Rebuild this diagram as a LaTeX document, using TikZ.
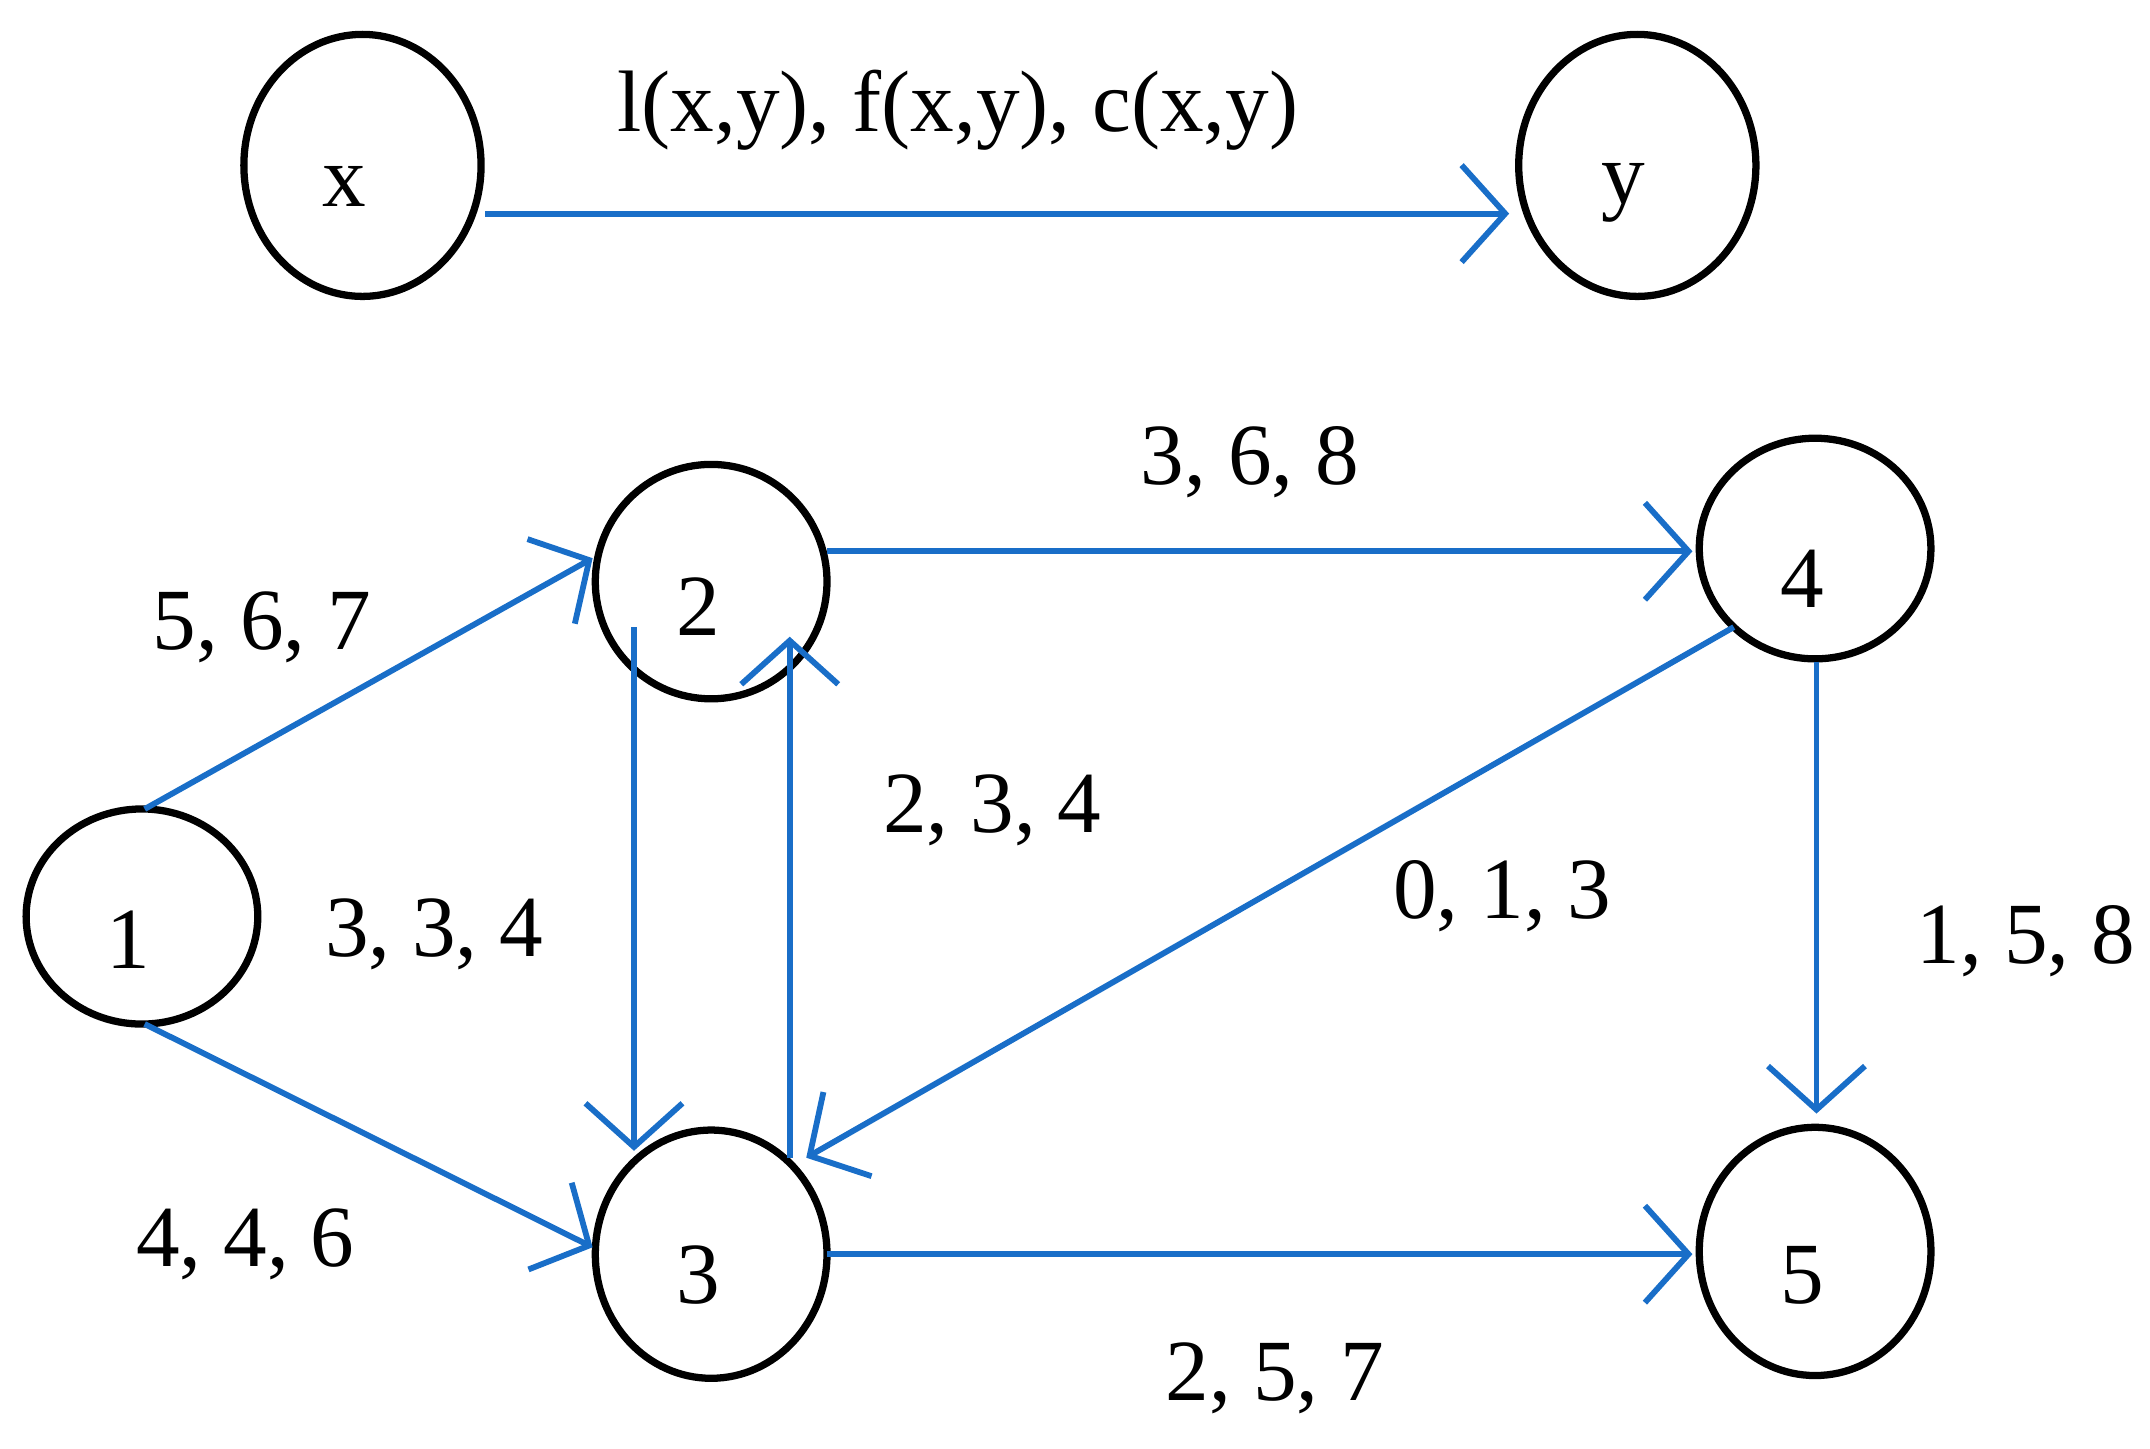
\documentclass[tikz,border=0pt]{standalone}
\usepackage{fontspec}
\setmainfont{Liberation Serif}
\usetikzlibrary{shapes.geometric,arrows.meta}
\definecolor{eblue}{RGB}{25,110,200}
\begin{document}
\begin{tikzpicture}[x=0.01cm,y=-0.01cm,
  nd/.style={ellipse,draw=black,line width=1.5pt,inner sep=0pt},
  ed/.style={draw=eblue,line width=1.2pt,-{Straight Barb[length=9pt,width=20pt,line width=1.2pt]}},
  lb/.style={font=\fontsize{18}{21}\selectfont}]
\useasboundingbox (0,0) rectangle (1560,1051);
\node[nd,minimum width=172\pgflinewidth*0+1.72cm,minimum height=1.9cm,label={[lb,xshift=-0.13cm,yshift=-0.15cm]center:x}] (x) at (263,120) {};
\node[nd,minimum width=1.72cm,minimum height=1.9cm,label={[lb,xshift=-0.1cm,yshift=-0.2cm]center:y}] (y) at (1188,120) {};
\node[nd,minimum width=1.68cm,minimum height=1.56cm,label={[lb,xshift=-0.1cm,yshift=-0.17cm]center:1}] (n1) at (103,665) {};
\node[nd,minimum width=1.68cm,minimum height=1.7cm,label={[lb,xshift=-0.09cm,yshift=-0.18cm]center:2}] (n2) at (516,422) {};
\node[nd,minimum width=1.68cm,minimum height=1.8cm,label={[lb,xshift=-0.09cm,yshift=-0.15cm]center:3}] (n3) at (516,910) {};
\node[nd,minimum width=1.68cm,minimum height=1.6cm,label={[lb,xshift=-0.09cm,yshift=-0.22cm]center:4}] (n4) at (1317,398) {};
\node[nd,minimum width=1.68cm,minimum height=1.8cm,label={[lb,xshift=-0.09cm,yshift=-0.17cm]center:5}] (n5) at (1317,908) {};

\draw[ed] ([shift={(89,35)}]x.center) -- ([shift={(-93,35)}]y.center);
\draw[ed] ([shift={(2,-78)}]n1.center) -- ([shift={(-86,-17)}]n2.center);
\draw[ed] ([shift={(2,78)}]n1.center) -- ([shift={(-86,-5)}]n3.center);
\draw[ed] ([shift={(-56,33)}]n2.center) -- ([shift={(-56,-75)}]n3.center);
\draw[ed] ([shift={(57,-70)}]n3.center) -- ([shift={(57,40)}]n2.center);
\draw[ed] ([shift={(84,-22)}]n2.center) -- ([shift={(-89,2)}]n4.center);
\draw[ed] ([shift={(-59,57)}]n4.center) -- ([shift={(69,-70)}]n3.center);
\draw[ed] ([shift={(1,82)}]n4.center) -- ([shift={(1,-100)}]n5.center);
\draw[ed] ([shift={(84,0)}]n3.center) -- ([shift={(-89,2)}]n5.center);

\node[lb] (l0) at (695,80) {l(x,y), f(x,y), c(x,y)};
\node[lb] (l1) at (190,455) {5, 6, 7};
\node[lb] (l2) at (315,678) {3, 3, 4};
\node[lb] (l3) at (178,903) {4, 4, 6};
\node[lb] (l4) at (907,335) {3, 6, 8};
\node[lb] (l5) at (720,588) {2, 3, 4};
\node[lb] (l6) at (1090,650) {0, 1, 3};
\node[lb] (l7) at (1470,683) {1, 5, 8};
\node[lb] (l8) at (925,1000) {2, 5, 7};
\end{tikzpicture}
\end{document}
